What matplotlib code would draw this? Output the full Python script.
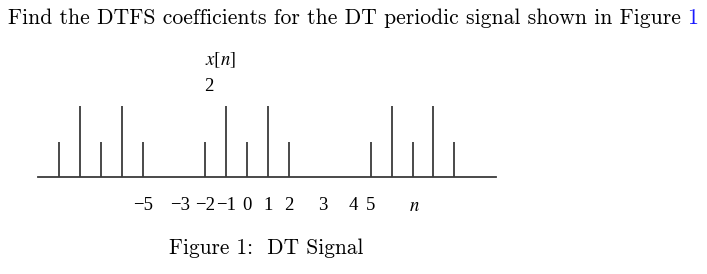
import numpy as np
import matplotlib
matplotlib.use("Agg")
import matplotlib.pyplot as plt

plt.rcParams["mathtext.fontset"] = "stix"

# one period: n = -2..4 -> 1, 2, 1, 2, 1, 0, 0  (period 7)
n_left = [-9, -8, -7, -6, -5]
n_mid = [-2, -1, 0, 1, 2]
n_right = [5, 6, 7, 8, 9]
x_vals = [1, 2, 1, 2, 1]

tick_n = [-5, -3, -2, -1, 0, 1, 2, 3, 4, 5]
tick_text = ["\u22125", "\u22123", "\u22122", "\u22121", "0", "1", "2", "3", "4", "5"]

# the drawing in the figure is not evenly spaced, so use a piecewise scale
knot_n = np.array([-40, -9, -5, -3, -2, -1, 0, 1, 2, 3, 4, 5, 9, 40])
knot_p = np.array([59 - 31 * 21, 59, 143, 180, 205, 226, 247, 268, 289, 323, 353, 371, 454, 454 + 31 * 20.75])

def fwd(v):
    return np.interp(v, knot_n, knot_p)

def inv(p):
    return np.interp(p, knot_p, knot_n)

fig = plt.figure(figsize=(7.07, 2.74), dpi=100)
ax = fig.add_axes([0, 0, 1, 1])
ax.set_xscale("function", functions=(fwd, inv))
ax.set_xlim(inv(0), inv(707))
ax.set_ylim(-97 / 35.5, 177 / 35.5)
ax.axis("off")

col = "#3a3a3a"
for grp in (n_left, n_mid, n_right):
    ax.vlines(grp, 0, x_vals, color=col, lw=1.3)
ax.plot([inv(38), inv(496)], [0, 0], color=col, lw=1.3)

serif = "Liberation Serif"
for t, s in zip(tick_n, tick_text):
    ax.text(t, -0.79, s, ha="center", va="center", family=serif, fontsize=13.5)
ax.text(inv(414), -0.79, "$n$", ha="center", va="center", fontsize=13.5)
ax.text(inv(220), 3.3, "$x[n]$", ha="center", va="center", fontsize=13.5)
ax.text(inv(209), 2.54, "2", ha="center", va="center", family=serif, fontsize=13.5)

title = fig.text(8 / 707, 1 - 18 / 274, "Find the DTFS coefficients for the DT periodic signal shown in Figure",
                 ha="left", va="center", family="cmr10", fontsize=15.6)
fig.canvas.draw()
bb = title.get_window_extent()
fig.text((bb.x1 + 6) / 707, 1 - 18 / 274, "1", ha="left", va="center", family="cmr10", fontsize=15.6,
         color="#1a1aff")
fig.text(266 / 707, 1 - 248 / 274, "Figure 1:  DT Signal", ha="center", va="center", family="cmr10",
         fontsize=15.4)

fig.savefig("out.png", dpi=100)
